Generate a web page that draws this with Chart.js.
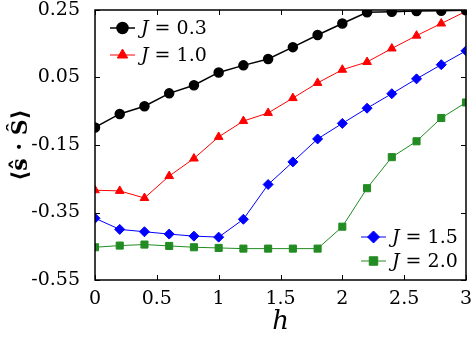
<!DOCTYPE html>
<html>
<head>
<meta charset="utf-8">
<script src="https://cdn.jsdelivr.net/npm/chart.js@4"></script>
<style>
html,body{margin:0;padding:0;background:#fff;}
#wrap{width:474px;height:338px;}
</style>
</head>
<body>
<div id="wrap"><canvas id="c" width="474" height="338"></canvas></div>
<script>

// -------------------------------------
// DATA
// -------------------------------------

const hValues = [0, 0.2, 0.4, 0.6, 0.8, 1.0, 1.2, 1.4, 1.6, 1.8, 2.0, 2.2, 2.4, 2.6, 2.8, 3.0];

const j03 = [-0.098, -0.058, -0.035, 0.003, 0.027, 0.065, 0.086, 0.105, 0.140, 0.176, 0.210, 0.243, 0.245, 0.247, 0.248, 0.249];
const j10 = [-0.284, -0.286, -0.307, -0.242, -0.190, -0.126, -0.079, -0.055, -0.011, 0.034, 0.073, 0.096, 0.136, 0.174, 0.210, 0.246];
const j15 = [-0.367, -0.400, -0.407, -0.414, -0.420, -0.423, -0.370, -0.267, -0.200, -0.132, -0.086, -0.041, 0.002, 0.046, 0.088, 0.129];
const j20 = [-0.453, -0.448, -0.445, -0.449, -0.453, -0.455, -0.457, -0.457, -0.457, -0.457, -0.392, -0.278, -0.186, -0.139, -0.070, -0.024];

const yTicks = [-0.55, -0.35, -0.15, 0.05, 0.25];
const xTicks = [0, 0.5, 1, 1.5, 2, 2.5, 3];

const labels = ["0.3", "1.0", "1.5", "2.0"];

const SERIF = "'DejaVu Serif'";

function pts(ys){
return hValues.map((h, i) => ({x: h, y: ys[i]}));
}

// -------------------------------------
// PLUGINS
// -------------------------------------

// box + inward ticks on all four sides
const frame = {
id: "frame",
afterDraw(chart){
const {ctx, chartArea: a, scales} = chart;
ctx.save();
ctx.strokeStyle = "#000";
ctx.lineWidth = 1;
xTicks.forEach(v => {
const x = Math.round(scales.x.getPixelForValue(v)) + 0.5;
ctx.beginPath();
ctx.moveTo(x, a.bottom); ctx.lineTo(x, a.bottom - 5);
ctx.moveTo(x, a.top); ctx.lineTo(x, a.top + 5);
ctx.stroke();
});
yTicks.forEach(v => {
const y = Math.round(scales.y.getPixelForValue(v)) + 0.5;
ctx.beginPath();
ctx.moveTo(a.left, y); ctx.lineTo(a.left + 5, y);
ctx.moveTo(a.right, y); ctx.lineTo(a.right - 5, y);
ctx.stroke();
});
ctx.lineWidth = 1.5;
ctx.strokeRect(a.left, a.top, a.right - a.left, a.bottom - a.top);
ctx.restore();
}
};

// two legend boxes, as in the original figure
const legends = {
id: "legends",
afterDraw(chart){
const {ctx, chartArea: a} = chart;
const spots = [
{x: a.left + 15, y: a.top + 18},
{x: a.left + 15, y: a.top + 45},
{x: a.right - 105, y: a.bottom - 43},
{x: a.right - 105, y: a.bottom - 19}
];
ctx.save();
chart.data.datasets.forEach((ds, i) => {
const p = spots[i];
ctx.strokeStyle = ds.borderColor;
ctx.lineWidth = ds.borderWidth;
ctx.beginPath();
ctx.moveTo(p.x, p.y); ctx.lineTo(p.x + 25, p.y);
ctx.stroke();
ctx.fillStyle = ds.backgroundColor;
ctx.strokeStyle = ds.borderColor;
Chart.helpers.drawPoint(ctx, {pointStyle: ds.pointStyle, radius: ds.pointRadius + 1, rotation: 0, borderWidth: 1}, p.x + 12.5, p.y);
ctx.fillStyle = "#000";
ctx.textBaseline = "middle";
ctx.font = "italic 19px " + SERIF;
ctx.fillText("J", p.x + 31, p.y + 1);
const w = ctx.measureText("J").width;
ctx.font = "19px " + SERIF;
ctx.fillText("= " + labels[i], p.x + 31 + w + 6, p.y + 1);
});
ctx.restore();
}
};

// -------------------------------------
// CHART
// -------------------------------------

const ctx = document.getElementById("c").getContext("2d");

new Chart(ctx, {

type: "line",

data: {
datasets: [
{data: pts(j03), borderColor: "#000000", backgroundColor: "#000000", borderWidth: 1.5, pointStyle: "circle", pointRadius: 4.5},
{data: pts(j10), borderColor: "#ff0000", backgroundColor: "#ff0000", borderWidth: 1, pointStyle: "triangle", pointRadius: 5},
{data: pts(j15), borderColor: "#0000ff", backgroundColor: "#0000ff", borderWidth: 1, pointStyle: "rectRot", pointRadius: 5},
{data: pts(j20), borderColor: "#228b22", backgroundColor: "#228b22", borderWidth: 1, pointStyle: "rect", pointRadius: 5}
]
},

options: {
responsive: false,
animation: false,
layout: {padding: {top: 10, right: 8, left: 0, bottom: 0}},
plugins: {legend: {display: false}, tooltip: {enabled: false}},
elements: {point: {borderWidth: 1}, line: {tension: 0}},
scales: {
x: {
type: "linear",
min: 0, max: 3,
afterBuildTicks: s => { s.ticks = xTicks.map(v => ({value: v})); },
afterFit: s => { s.height = 58; s.paddingLeft = 0; s.paddingRight = 0; },
grid: {display: false},
border: {display: false},
ticks: {color: "#000", font: {family: SERIF, size: 19}, padding: 0, maxRotation: 0, callback: v => String(v)},
title: {display: true, text: "h", color: "#000", font: {family: SERIF, size: 26, style: "italic"}, padding: {top: 0, bottom: 0}}
},
y: {
min: -0.55, max: 0.25,
afterBuildTicks: s => { s.ticks = yTicks.map(v => ({value: v})); },
afterFit: s => { s.width = 95; s.paddingTop = 0; s.paddingBottom = 0; },
grid: {display: false},
border: {display: false},
ticks: {color: "#000", font: {family: SERIF, size: 19}, padding: 7, callback: v => v.toFixed(2)},
title: {display: true, text: "⟨ŝ · Ŝ⟩", color: "#000", font: {family: SERIF, size: 22, weight: "bold"}, padding: {top: 8, bottom: 0}}
}
}
},

plugins: [frame, legends]

});

</script>
</body>
</html>
